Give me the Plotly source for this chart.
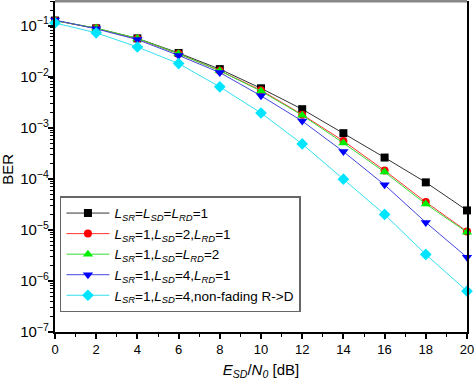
import plotly.graph_objects as go

snr = [0, 2, 4, 6, 8, 10, 12, 14, 16, 18, 20]

ber_111 = [0.125, 0.088, 0.056, 0.029, 0.014, 5.9e-3, 2.3e-3, 7.8e-4, 2.6e-4, 8.5e-5, 2.4e-5]
ber_121 = [0.125, 0.088, 0.055, 0.028, 0.013, 5.4e-3, 1.8e-3, 5.5e-4, 1.45e-4, 3.5e-5, 9.3e-6]
ber_122 = [0.125, 0.089, 0.056, 0.028, 0.013, 5.2e-3, 1.75e-3, 5.0e-4, 1.35e-4, 3.2e-5, 9.0e-6]
ber_141 = [0.128, 0.086, 0.053, 0.026, 0.012, 4.2e-3, 1.35e-3, 3.4e-4, 7.6e-5, 1.4e-5, 2.9e-6]
ber_14nf = [0.112, 0.072, 0.038, 0.018, 6.3e-3, 1.94e-3, 4.8e-4, 9.8e-5, 2.0e-5, 3.3e-6, 6.3e-7]

series = [
    ("<i>L<sub>SR</sub></i>=<i>L<sub>SD</sub></i>=<i>L<sub>RD</sub></i>=1", ber_111, "#000000", "#333333", "square", 8),
    ("<i>L<sub>SR</sub></i>=1,<i>L<sub>SD</sub></i>=2,<i>L<sub>RD</sub></i>=1", ber_121, "#ff0000", "#ff3333", "circle", 8),
    ("<i>L<sub>SR</sub></i>=1,<i>L<sub>SD</sub></i>=<i>L<sub>RD</sub></i>=2", ber_122, "#00ee00", "#33dd33", "triangle-up", 9),
    ("<i>L<sub>SR</sub></i>=1,<i>L<sub>SD</sub></i>=4,<i>L<sub>RD</sub></i>=1", ber_141, "#0000ff", "#4444dd", "triangle-down", 9),
    ("<i>L<sub>SR</sub></i>=1,<i>L<sub>SD</sub></i>=4,non-fading R-&gt;D", ber_14nf, "#00e5ff", "#33e0ee", "diamond", 9),
]

fig = go.Figure()
for name, y, mc, lc, sym, sz in series:
    fig.add_trace(go.Scatter(
        x=snr, y=y, name=name, mode="lines+markers",
        line=dict(color=lc, width=1),
        marker=dict(symbol=sym, size=sz, color=mc, line=dict(width=0)),
        cliponaxis=False,
    ))

fnt = "Liberation Sans, Arial, sans-serif"
fig.update_layout(
    width=474, height=387,
    margin=dict(l=55, r=7, t=1, b=55, autoexpand=False),
    paper_bgcolor="white", plot_bgcolor="white",
    font=dict(family=fnt, size=13, color="black"),
    showlegend=True,
    legend=dict(
        x=0.012, y=0.41, xanchor="left", yanchor="top",
        bgcolor="white", bordercolor="#666666", borderwidth=1.5,
        font=dict(size=13.5), tracegroupgap=0, itemwidth=43,
    ),
    xaxis=dict(
        range=[0, 20], dtick=2, showgrid=False, zeroline=False, automargin=False,
        showline=True, linecolor="black", linewidth=1.5, ticklabeloverflow="allow",
        ticks="outside", ticklen=5, tickcolor="black", tickwidth=1.5,
        minor=dict(dtick=1, ticks="outside", ticklen=3, tickcolor="black", tickwidth=1),
        title=dict(text="<i>E<sub>SD</sub></i>/<i>N<sub>0</sub></i> [dB]", font=dict(size=15), standoff=8),
        tickfont=dict(size=13),
    ),
    yaxis=dict(
        type="log", range=[-7, -0.52], dtick=1, exponentformat="power", automargin=False,
        showgrid=False, zeroline=False, ticklabeloverflow="allow", ticklabelstandoff=-3,
        showline=True, linecolor="black", linewidth=1.5, mirror=True,
        ticks="outside", ticklen=5, tickcolor="black", tickwidth=1.5,
        minor=dict(dtick="D1", ticks="outside", ticklen=3, tickcolor="black", tickwidth=1),
        tickfont=dict(size=12),
    ),
    annotations=[dict(text="BER", xref="paper", yref="paper", x=-0.114, y=0.49,
                      xanchor="center", yanchor="middle", textangle=-90,
                      showarrow=False, font=dict(size=15))],
    shapes=[dict(type="line", xref="paper", yref="paper", x0=0, x1=1, y0=1, y1=1,
                 line=dict(color="#888888", width=3))],
)

fig.write_html("out.html", config={"displayModeBar": False},
               post_script="document.body.style.margin='0';document.body.style.overflow='hidden';")
